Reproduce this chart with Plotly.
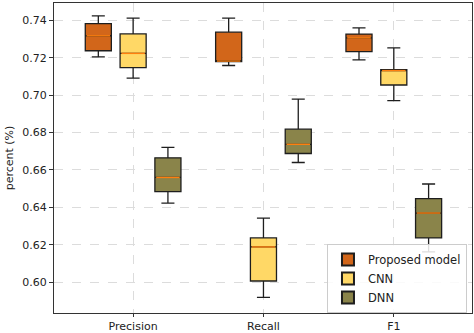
import plotly.graph_objects as go

# Evaluation metrics on the x axis
metrics = ["Precision", "Recall", "F1"]

# Box statistics per model (one value per metric)
models = ["Proposed model", "CNN", "DNN"]

proposed_low = [0.7204, 0.7158, 0.7188]
proposed_q1 = [0.7237, 0.7179, 0.7232]
proposed_med = [0.7317, 0.7182, 0.7306]
proposed_q3 = [0.7382, 0.7336, 0.7326]
proposed_high = [0.7423, 0.7411, 0.7359]

cnn_low = [0.7091, 0.5920, 0.6970]
cnn_q1 = [0.7147, 0.6007, 0.7054]
cnn_med = [0.7223, 0.6189, 0.7131]
cnn_q3 = [0.7327, 0.6237, 0.7136]
cnn_high = [0.7411, 0.6343, 0.7252]

dnn_low = [0.6423, 0.6640, 0.6163]
dnn_q1 = [0.6484, 0.6688, 0.6237]
dnn_med = [0.6560, 0.6737, 0.6370]
dnn_q3 = [0.6665, 0.6818, 0.6447]
dnn_high = [0.6721, 0.6979, 0.6525]

stats = [
    (proposed_low, proposed_q1, proposed_med, proposed_q3, proposed_high),
    (cnn_low, cnn_q1, cnn_med, cnn_q3, cnn_high),
    (dnn_low, dnn_q1, dnn_med, dnn_q3, dnn_high),
]
fills = ["#d2661a", "#ffd866", "#8a844a"]
edge = "#1e1e1e"
median_color = "#ff7f0e"

group_offset = 0.267
box_width = 0.2

fig = go.Figure()
for k, (name, (lo, q1, med, q3, hi), fill) in enumerate(zip(models, stats, fills)):
    xs = [i + (k - 1) * group_offset for i in range(len(metrics))]
    fig.add_trace(go.Box(
        name=name,
        x=xs,
        lowerfence=lo, q1=q1, median=med, q3=q3, upperfence=hi,
        width=box_width,
        whiskerwidth=0.5,
        fillcolor=fill,
        line=dict(color=edge, width=1.3),
        boxpoints=False,
        hoverinfo="skip",
    ))
    # orange median bars drawn across each box
    mx, my = [], []
    for x, m in zip(xs, med):
        mx += [x - box_width / 2 + 0.01, x + box_width / 2 - 0.01, None]
        my += [m, m, None]
    fig.add_trace(go.Scatter(
        x=mx, y=my, mode="lines",
        line=dict(color=median_color, width=1.4),
        showlegend=False, hoverinfo="skip",
    ))

axis_font = dict(family="DejaVu Sans", size=11, color="#222")
fig.update_layout(
    width=474, height=333,
    margin=dict(l=54, r=2, t=3, b=20),
    paper_bgcolor="white", plot_bgcolor="white",
    font=axis_font,
    showlegend=True,
    legend=dict(
        x=0.988, y=0.0, xanchor="right", yanchor="bottom",
        bgcolor="rgba(255,255,255,0.85)",
        bordercolor="#cccccc", borderwidth=1,
        font=dict(family="DejaVu Sans", size=11.5, color="#222"),
        tracegroupgap=0, itemsizing="constant",
    ),
)
fig.update_xaxes(
    range=[-0.607, 2.6],
    tickmode="array", tickvals=list(range(len(metrics))), ticktext=metrics,
    showline=True, linecolor="#333", linewidth=1.2, mirror=True,
    ticks="outside", ticklen=3, tickcolor="#333",
    showgrid=True, gridcolor="#dcdcdc", griddash="dash", gridwidth=1,
    zeroline=False, automargin=False,
)
fig.update_yaxes(
    range=[0.5836, 0.7492],
    tickmode="array",
    tickvals=[0.60, 0.62, 0.64, 0.66, 0.68, 0.70, 0.72, 0.74],
    tickformat=".2f",
    title=dict(text="percent (%)", standoff=6, font=axis_font),
    showline=True, linecolor="#333", linewidth=1.2, mirror=True,
    ticks="outside", ticklen=4, tickcolor="#333",
    showgrid=True, gridcolor="#dcdcdc", griddash="dash", gridwidth=1,
    zeroline=False, automargin=False,
)

fig.write_html("out.html")
